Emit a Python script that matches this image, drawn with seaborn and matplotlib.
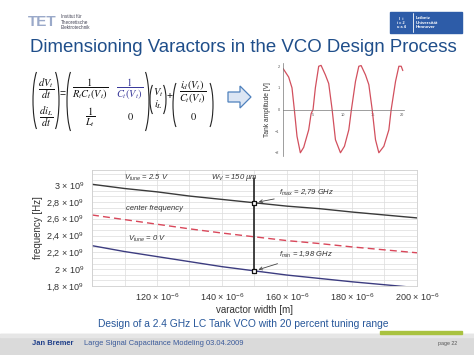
import matplotlib
matplotlib.use("Agg")
import matplotlib.pyplot as plt
import matplotlib.patches as mpatches
from matplotlib.ticker import FuncFormatter, FixedLocator
import seaborn as sns
import numpy as np
import pandas as pd

# varactor sweep (width in um, frequency in GHz)
width_um = [100, 110, 120, 130, 140, 150, 160, 170, 180, 190, 200]
f_max_ghz = [3.01, 2.96, 2.92, 2.87, 2.83, 2.79, 2.75, 2.72, 2.68, 2.645, 2.61]
f_center_ghz = [2.645, 2.59, 2.535, 2.48, 2.43, 2.385, 2.34, 2.305, 2.265, 2.23, 2.195]
f_min_ghz = [2.28, 2.21, 2.15, 2.09, 2.03, 1.98, 1.93, 1.89, 1.85, 1.815, 1.78]

# design point W_V = 150 um
design_w_um = 150
design_f_ghz = [2.79, 1.98]
design_line_ghz = [1.98, 3.09]

x_ticks_um = [120, 140, 160, 180, 200]
y_ticks_ghz = [1.8, 2.0, 2.2, 2.4, 2.6, 2.8, 3.0]

# tank amplitude waveform (small plot, top right)
t_ns = [0.0, 0.95, 1.51, 1.9, 2.35, 2.91, 3.47, 4.31, 4.71, 5.04, 5.43, 5.99, 6.39,
        7.11, 7.67, 8.24, 8.8, 9.64, 10.31, 11.04, 11.48, 12.16, 12.72, 13.11,
        13.84, 14.4, 14.96, 15.52, 16.08, 16.92, 17.76, 18.15, 18.88, 19.44, 19.83, 20.1]
v_tank = [1.9, 1.5, 1.0, 0.0, -1.24, -2.0, -1.75, -0.94, -0.2, 0.0, 1.0, 2.0, 2.04,
          1.6, 1.2, 0.0, -1.4, -2.0, -1.7, -0.94, 0.0, 1.3, 2.0, 2.03,
          1.6, 1.15, 0.0, -1.4, -2.0, -1.7, -0.94, 0.0, 1.3, 2.0, 2.0, 1.8]

sweep = pd.DataFrame({
    "width": np.array(width_um) * 1e-6,
    "f_max": np.array(f_max_ghz) * 1e9,
    "f_center": np.array(f_center_ghz) * 1e9,
    "f_min": np.array(f_min_ghz) * 1e9,
})
tank = pd.DataFrame({"t": t_ns, "v": v_tank})

sns.set_style("white")
plt.rcParams["font.family"] = ["Liberation Sans", "DejaVu Sans"]
plt.rcParams["mathtext.fontset"] = "custom"
plt.rcParams["mathtext.rm"] = "Liberation Sans"
plt.rcParams["mathtext.it"] = "Liberation Sans:italic"
plt.rcParams["mathtext.bf"] = "Liberation Sans:bold"

W, H = 474, 355
fig = plt.figure(figsize=(4.74, 3.55), dpi=100)
fig.patch.set_facecolor("white")


def px_axes(l, t, r, b, **kw):
    return fig.add_axes([l / W, 1 - b / H, (r - l) / W, (b - t) / H], **kw)


# slide background in pixel coordinates
bg = px_axes(0, 0, W, H, zorder=0)
bg.set_xlim(0, W)
bg.set_ylim(H, 0)
bg.axis("off")

blue = "#1f4e8a"
bg.text(243, 48, "Dimensioning Varactors in the VCO Design Process", fontsize=13.4,
        color=blue, ha="center", va="center")

# logos
bg.text(42, 22, "TET", fontsize=11, fontweight="bold", color="#9aa9c9", ha="center", va="center")
bg.text(61, 22, "Institut für\nTheoretische\nElektrotechnik", fontsize=3.3, color="#445",
        ha="left", va="center", linespacing=1.1)
bg.add_patch(mpatches.Rectangle((390, 12), 72, 21, color="#2d5ca8"))
bg.plot([413, 413], [13, 32], color="white", lw=0.6)
bg.text(401, 22.5, "l  i\ni c 2\nu a 4", fontsize=2.8, color="white", ha="center",
        va="center", fontweight="bold", linespacing=1.0)
bg.text(416, 22.5, "Leibniz\nUniversität\nHannover", fontsize=3.2, color="white",
        ha="left", va="center", fontweight="bold", linespacing=1.1)

# state equation
eq = dict(math_fontfamily="stix", fontsize=7.5, ha="center", va="center", color="#111")
cv = "#3a3a9a"


def paren(x0, y0, y1, left=True, r=7):
    # parametric sweep of +-60 deg, converted to the geometric angles Arc expects
    h = (y1 - y0) / np.sin(np.radians(60))
    cy = (y0 + y1) / 2
    g = np.degrees(np.arctan2(h / 2 * np.sin(np.radians(60)), r * np.cos(np.radians(60))))
    if left:
        bg.add_patch(mpatches.Arc((x0 + r, cy), 2 * r, h, theta1=180 - g, theta2=180 + g,
                                  lw=0.8, color="#222"))
    else:
        bg.add_patch(mpatches.Arc((x0 - r, cy), 2 * r, h, theta1=-g, theta2=g,
                                  lw=0.8, color="#222"))


paren(33, 72, 129)
paren(59, 72, 129, left=False)
bg.text(46, 89, r"$\dfrac{dV_t}{dt}$", **eq)
bg.text(46, 117, r"$\dfrac{di_L}{dt}$", **eq)
bg.text(63, 94, "=", **eq)
paren(67, 72, 131)
paren(149, 72, 131, left=False)
bg.text(90, 89, r"$\dfrac{1}{R_t C_t(V_t)}$", **eq)
bg.text(130, 89, r"$\dfrac{1}{C_t(V_t)}$", **dict(eq, color=cv))
bg.text(90, 117, r"$\dfrac{1}{L_t}$", **eq)
bg.text(130, 117, "$0$", **eq)
paren(150, 85, 114, r=5)
paren(166, 85, 114, left=False, r=5)
bg.text(158, 93, "$V_t$", **eq)
bg.text(158, 105, "$i_L$", **eq)
bg.text(169.5, 96, "+", **eq)
paren(173, 83, 127, r=6)
paren(213, 83, 127, left=False, r=6)
bg.text(193, 92, r"$\dfrac{i_d(V_t)}{C_t(V_t)}$", **eq)
bg.text(193, 117, "$0$", **eq)

# block arrow
bg.add_patch(mpatches.Polygon([(228, 92), (240, 92), (240, 86), (251, 97), (240, 108),
                               (240, 102), (228, 102)], closed=True, facecolor="#dce6f4",
                              edgecolor="#4f81bd", lw=0.9))

# caption and footer
bg.text(243, 324, "Design of a 2.4 GHz LC Tank VCO with 20 percent tuning range",
        fontsize=7.4, color="#27579a", ha="center", va="center")
bg.add_patch(mpatches.Rectangle((0, 334), W, 21, color="#dadada", zorder=1))
bg.add_patch(mpatches.Rectangle((0, 334), W, 3, color="#e6e6e6", zorder=1))
bg.add_patch(mpatches.Rectangle((380, 331), 82, 3, color="#a9c23f", zorder=2))
bg.text(32, 343.5, "Jan Bremer", fontsize=5.4, fontweight="bold", color="#1f3f8a",
        ha="left", va="center", zorder=3)
bg.text(84, 343.5, "Large Signal Capacitance Modeling 03.04.2009", fontsize=5.4,
        color="#3a5a9a", ha="left", va="center", zorder=3)
bg.text(457, 343, "page 22", fontsize=3.8, color="#555", ha="right", va="center", zorder=3)

# main chart
ax = px_axes(92, 170, 417, 286, zorder=2)
ax.set_facecolor("white")
sns.lineplot(data=sweep, x="width", y="f_max", ax=ax, color="#3a3a3a", lw=1.0)
sns.lineplot(data=sweep, x="width", y="f_center", ax=ax, color="#d9475a", lw=1.0,
             linestyle=(0, (5, 3)))
sns.lineplot(data=sweep, x="width", y="f_min", ax=ax, color="#3c3c80", lw=1.0)
ax.plot([design_w_um * 1e-6] * 2, np.array(design_line_ghz) * 1e9, color="#111", lw=1.1)
ax.scatter([design_w_um * 1e-6] * 2, np.array(design_f_ghz) * 1e9, marker="s", s=10,
           facecolor="white", edgecolor="#111", lw=0.9, zorder=5)

ax.set_xlim(100e-6, 200e-6)
ax.set_ylim(1.8e9, 3.18e9)
ax.xaxis.set_major_locator(FixedLocator(np.array(x_ticks_um) * 1e-6))
ax.xaxis.set_minor_locator(FixedLocator(np.array(width_um) * 1e-6))
ax.yaxis.set_major_locator(FixedLocator(np.array(y_ticks_ghz) * 1e9))
ax.yaxis.set_minor_locator(FixedLocator(np.arange(1.8, 3.2, 0.2 / 3) * 1e9))
ax.xaxis.set_major_formatter(FuncFormatter(lambda v, p: f"{v * 1e6:.0f} × 10$^{{-6}}$"))
ax.yaxis.set_major_formatter(FuncFormatter(
    lambda v, p: f"{v / 1e9:g}".replace(".", ",") + " × 10$^{9}$"))
ax.grid(True, which="both", color="#dcdcdc", lw=0.5)
ax.tick_params(axis="both", which="major", labelsize=6.5, colors="#333", length=2, width=0.5)
ax.tick_params(axis="both", which="minor", length=0)
ax.tick_params(axis="x", pad=2)
for s in ax.spines.values():
    s.set_color("#cfcfcf")
    s.set_linewidth(0.6)
ax.set_xlabel("varactor width [m]", fontsize=7, color="#333", labelpad=1)
ax.set_ylabel("frequency [Hz]", fontsize=7, color="#333", labelpad=2)

note = dict(fontsize=5.5, style="italic", color="#333", va="center")
ax.text(110e-6, 3.09e9, r"$V_{tune}$ = 2.5 V", ha="left", **note)
ax.text(136.5e-6, 3.09e9, r"$W_{V}$ = 150 µm", ha="left", **note)
ax.text(110.5e-6, 2.72e9, "center frequency", ha="left", **note)
ax.text(111e-6, 2.36e9, r"$V_{tune}$ = 0 V", ha="left", **note)
ax.annotate(r"$f_{max}$ = 2,79 GHz", xy=(design_w_um * 1e-6, design_f_ghz[0] * 1e9),
            xytext=(157.5e-6, 2.91e9), ha="left", **note,
            arrowprops=dict(arrowstyle="->", color="#444", lw=0.6, shrinkA=1, shrinkB=3))
ax.annotate(r"$f_{min}$ = 1,98 GHz", xy=(design_w_um * 1e-6, design_f_ghz[1] * 1e9),
            xytext=(157.5e-6, 2.17e9), ha="left", **note,
            arrowprops=dict(arrowstyle="->", color="#444", lw=0.6, shrinkA=1, shrinkB=3))

# tank amplitude inset
ia = px_axes(283, 63, 404, 156, zorder=2)
ia.set_facecolor("white")
sns.lineplot(data=tank, x="t", y="v", ax=ia, color="#d2505e", lw=0.9)
ia.set_xlim(0, 20.3)
ia.set_ylim(-2.15, 2.15)
ia.spines["top"].set_visible(False)
ia.spines["right"].set_visible(False)
ia.spines["bottom"].set_position(("data", 0))
for s in ("left", "bottom"):
    ia.spines[s].set_color("#777")
    ia.spines[s].set_linewidth(0.5)
ia.set_xticks([5, 10, 15, 20])
ia.set_yticks([-2, -1, 0, 1, 2])
ia.tick_params(labelsize=2.8, colors="#555", length=1.5, width=0.4, pad=1)
ia.set_xlabel("")
ia.set_ylabel("")
bg.text(268, 110, "Tank amplitude [V]", rotation=90, fontsize=4.8, color="#333",
        ha="center", va="center")
bg.text(349, 121, "Time [ns]", fontsize=4.8, color="#333", ha="center", va="center")

fig.savefig("out.png", dpi=100, facecolor="white")
